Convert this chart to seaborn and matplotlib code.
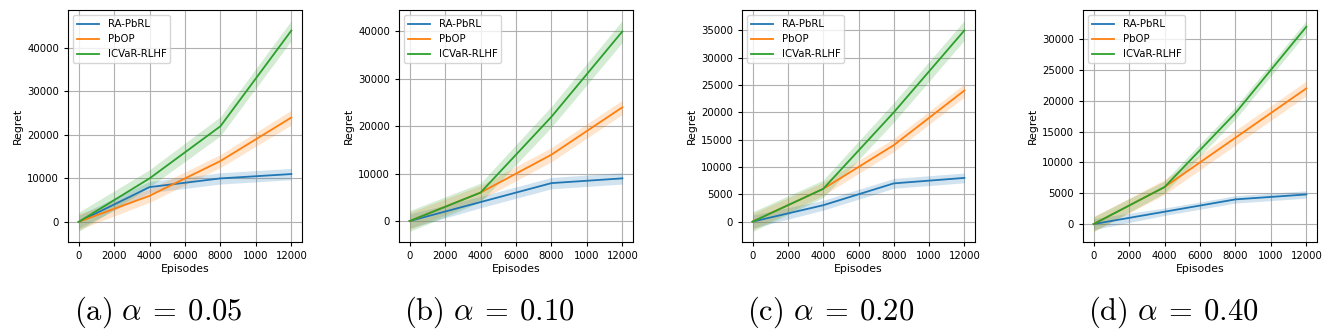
import matplotlib
matplotlib.use("Agg")
import matplotlib.pyplot as plt
import seaborn as sns
import pandas as pd
import numpy as np

episodes = [0, 4000, 8000, 12000]
xtick_vals = [0, 2000, 4000, 6000, 8000, 10000, 12000]
xtick_labels = ["0", "2000", "4000", "6000", "8000", "1000", "12000"]
methods = ["RA-PbRL", "PbOP", "ICVaR-RLHF"]
captions = [r"$\mathrm{(a)}\ \alpha\:=\:0.05$", r"$\mathrm{(b)}\ \alpha\:=\:0.10$",
            r"$\mathrm{(c)}\ \alpha\:=\:0.20$", r"$\mathrm{(d)}\ \alpha\:=\:0.40$"]

# mean regret per panel
ra_mean = [[0, 8000, 10000, 11000], [0, 4000, 8000, 9000],
           [0, 3000, 7000, 8000], [0, 2000, 4000, 4800]]
pbop_mean = [[0, 6000, 14000, 24000], [0, 6000, 14000, 24000],
             [0, 6000, 14000, 24000], [0, 6000, 14000, 22000]]
icvar_mean = [[0, 10000, 22000, 44000], [0, 6000, 22000, 40000],
              [0, 6000, 20000, 35000], [0, 6000, 18000, 32000]]
# band half-widths per panel
ra_band = [[1500, 1300, 1300, 1300], [1500, 1200, 1200, 1200],
           [1200, 900, 900, 900], [900, 600, 600, 600]]
pbop_band = [[1800, 1500, 1500, 1700], [1800, 1500, 1500, 1500],
             [1500, 1200, 1200, 1200], [1200, 1200, 1200, 1200]]
icvar_band = [[2200, 2000, 2200, 2300], [2200, 2000, 2200, 2300],
              [1800, 1600, 1800, 1800], [1200, 1000, 1000, 1000]]

axes_px = [(68, 302), (399, 633), (742, 975), (1083, 1317)]
caption_x = [158, 489, 831, 1173]
W, H = 1335, 329
top_px, bot_px = 10, 242

plt.rcParams["mathtext.fontset"] = "cm"
fig = plt.figure(figsize=(W / 100, H / 100), dpi=100)
palette = {"RA-PbRL": "#1f77b4", "PbOP": "#ff7f0e", "ICVaR-RLHF": "#2ca02c"}

for i in range(4):
    l, r = axes_px[i]
    ax = fig.add_axes([l / W, 1 - bot_px / H, (r - l) / W, (bot_px - top_px) / H])
    rows = []
    for m, means, bands in zip(methods, [ra_mean, pbop_mean, icvar_mean],
                               [ra_band, pbop_band, icvar_band]):
        for x, mu, d in zip(episodes, means[i], bands[i]):
            rows.append({"Episodes": x, "Regret": mu - d, "method": m})
            rows.append({"Episodes": x, "Regret": mu + d, "method": m})
    df = pd.DataFrame(rows)
    sns.lineplot(data=df, x="Episodes", y="Regret", hue="method", palette=palette,
                 errorbar="se", err_kws={"alpha": 0.2, "linewidth": 0},
                 linewidth=1.3, ax=ax)
    ax.grid(True, color="#b0b0b0", linewidth=0.8)
    ax.set_axisbelow(True)
    ax.set_xticks(xtick_vals)
    ax.set_xticklabels(xtick_labels)
    ax.tick_params(labelsize=7.3, length=3)
    ax.set_xlabel("Episodes", fontsize=7.8, labelpad=2)
    ax.set_ylabel("Regret", fontsize=7.8, labelpad=3)
    leg = ax.legend(loc="upper left", fontsize=7.3, title=None, handlelength=2.2)
    for s in ax.spines.values():
        s.set_color("black")
        s.set_linewidth(0.8)
    fig.text(caption_x[i] / W, 1 - 312 / H, captions[i], ha="center", va="center",
             fontsize=22)

fig.savefig("out.png", dpi=100, facecolor="white")
